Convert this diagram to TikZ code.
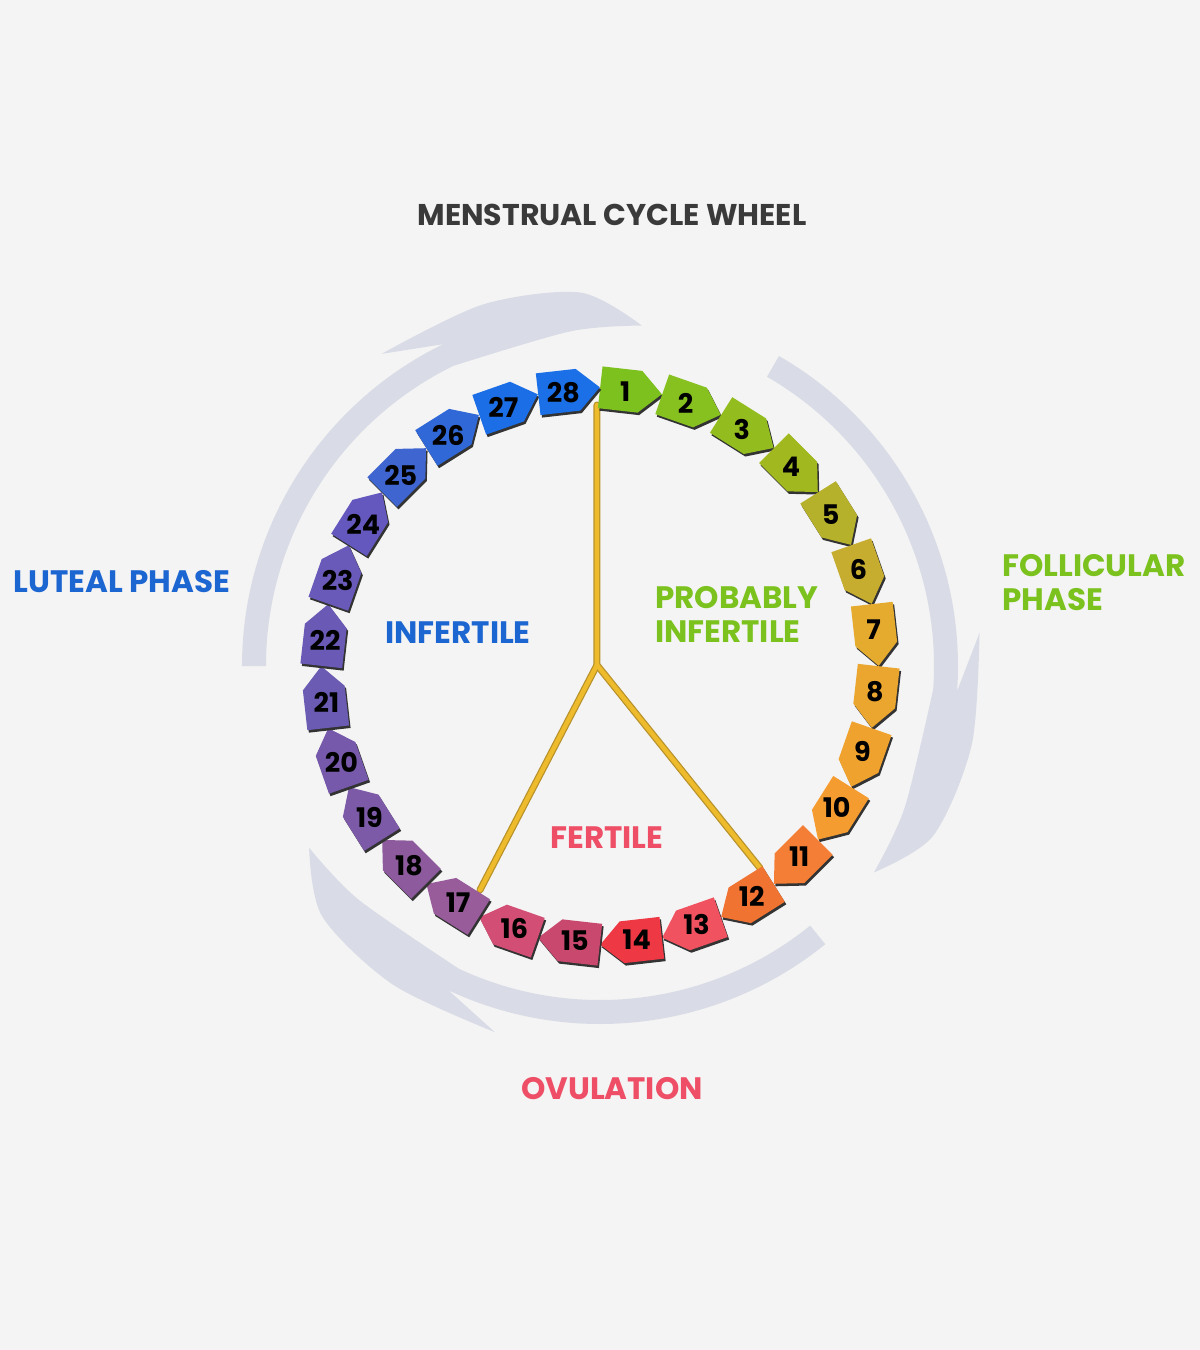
\documentclass[tikz,border=0pt]{standalone}
\usepackage{fontspec}
\setmainfont{Poppins}
\usepackage{xcolor}

\definecolor{bggray}{HTML}{F4F4F4}
\definecolor{swooshgray}{HTML}{D9DCE6}
\definecolor{titlegray}{HTML}{3A3A3A}
\definecolor{phaseblue}{HTML}{1C66D2}
\definecolor{phasegreen}{HTML}{7CC21E}
\definecolor{phasered}{HTML}{EE4E66}
\definecolor{spokegold}{HTML}{EDBB2C}
\definecolor{spokeedge}{HTML}{B8922A}

\begin{document}
\begin{tikzpicture}[x=1pt, y=1pt,
  daynum/.style={font=\fontsize{27}{27}\selectfont\bfseries, text=black, inner sep=0pt},
  phase/.style={font=\fontsize{31}{34}\selectfont\bfseries, inner sep=0pt},
  swoosh/.style={fill=swooshgray},
  spoke/.style={line width=7pt, draw=spokeedge, line cap=round},
  spokefill/.style={line width=4.5pt, draw=spokegold, line cap=round}]

  % background and margins
  \fill[bggray] (-600,-684) rectangle (600,666);
  \useasboundingbox (-600,-684) rectangle (600,666);

  % the three grey arrows round the wheel
  \foreach \ang in {180,60,-51} {
    \fill[swoosh] (\ang:358) arc[start angle=\ang, end angle=\ang-64, radius=358]
      -- ({\ang-55}:381)
      -- plot[smooth] coordinates {({\ang-55}:381) ({\ang-72}:380) ({\ang-87}:374) ({\ang-97}:343)}
      -- plot[smooth] coordinates {({\ang-97}:343) ({\ang-85}:336) ({\ang-64}:334)}
      arc[start angle=\ang-64, end angle=\ang, radius=334] -- cycle;
  }

  % the spokes
  \coordinate (hub) at (-3,1);
  \coordinate (top) at (-3,261);
  \coordinate (end12) at (160,-202);
  \coordinate (end17) at (-120,-224);
  \draw[spoke] (top) -- (hub) -- (end12);
  \draw[spoke] (hub) -- (end17);
  \draw[spokefill] (top) -- (hub) -- (end12);
  \draw[spokefill] (hub) -- (end17);

  % the days
  \foreach \k/\hex in {1/7DC11F, 2/86C11F, 3/93BD1E, 4/A1B81F, 5/B6B12A, 6/C6AD2F,
      7/E4AB2F, 8/EAA62E, 9/F0A22E, 10/F49C2F, 11/F47E36, 12/F07332, 13/F0525F,
      14/EE3844, 15/C8486E, 16/D24E74, 17/985C9B, 18/8D5B9D, 19/7C5AA8, 20/7659AA,
      21/6C5BB3, 22/6A5AB6, 23/6959B8, 24/6458BE, 25/3F66D0, 26/3168D8, 27/1B6EE6,
      28/1B70E8} {
    \pgfmathsetmacro{\ang}{90-(\k-0.5)*360/28}
    \definecolor{daycol}{HTML}{\hex}
    \begin{scope}[shift={(1.5,-2.5)}, shift={(\ang:277)}, rotate=\ang-90]
      \fill[black!80] (-31,-21) -- (9,-21) -- (31,0) -- (9,21) -- (-31,21) -- cycle;
    \end{scope}
    \begin{scope}[shift={(\ang:277)}, rotate=\ang-90]
      \fill[daycol] (-31,-21) -- (9,-21) -- (31,0) -- (9,21) -- (-31,21) -- cycle;
    \end{scope}
    \node[daynum] (d\k) at ({\ang+1.2}:276) {\k};
  }

  % titles and phases
  \node[phase, text=titlegray, font=\fontsize{30}{34}\selectfont\bfseries] (title) at (12,451) {MENSTRUAL CYCLE WHEEL};
  \node[phase, text=phaseblue] (luteal) at (-478,84) {LUTEAL PHASE};
  \node[phase, text=phasegreen, align=left, anchor=west] (follicular) at (402,83) {FOLLICULAR\\PHASE};
  \node[phase, text=phasegreen, align=left, anchor=west] (probably) at (55,52) {PROBABLY\\INFERTILE};
  \node[phase, text=phaseblue] (infertile) at (-142,33) {INFERTILE};
  \node[phase, text=phasered] (fertile) at (7,-172) {FERTILE};
  \node[phase, text=phasered] (ovulation) at (12,-423) {OVULATION};
\end{tikzpicture}
\end{document}
